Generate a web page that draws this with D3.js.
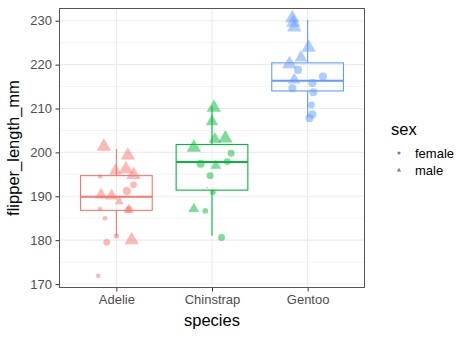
<!DOCTYPE html>
<html>
<head>
<meta charset="utf-8">
<script src="https://cdn.jsdelivr.net/npm/d3@7"></script>
<style>
  html, body { margin: 0; padding: 0; background: #fff; }
  svg { display: block; font-family: "Liberation Sans", Arial, Helvetica, sans-serif; }
</style>
</head>
<body>
<svg id="chart" width="474" height="338"></svg>
<script>
// ---------------- data ----------------
const species = ["Adelie", "Chinstrap", "Gentoo"];
const speciesColors = ["#F8766D", "#00BA38", "#619CFF"];
const yTicks = [170, 180, 190, 200, 210, 220, 230];
const sexLevels = ["female", "male"];

// box statistics: [lower whisker, Q1, median, Q3, upper whisker]
const boxAdelie    = [180.8, 186.8, 189.9, 194.7, 200.8];
const boxChinstrap = [181, 191.4, 197.8, 201.8, 210.5];
const boxGentoo    = [207.9, 214.0, 216.3, 220.4, 230.2];

// jittered observations (flipper length, sex, horizontal jitter in category units, size variable)
const adelieFlipper = [201.3, 199.3, 195.8, 196.2, 194.9, 190.3, 190.1, 188.8, 186.9, 180.0,
                       194.5, 192.6, 191.2, 187.1, 185.0, 181.0, 179.5, 171.9, 187.0];
const adelieSex     = ["male","male","male","male","male","male","male","male","male","male",
                       "female","female","female","female","female","female","female","female","female"];
const adelieJitter  = [-0.13, 0.12, -0.01, 0.10, 0.18, -0.16, -0.05, 0.03, 0.13, 0.16,
                       -0.17, 0.18, 0.11, -0.17, -0.12, 0.00, -0.10, -0.19, 0.13];
const adelieSize    = [4, 4, 3.5, 4, 4, 3.5, 3.5, 2.5, 3, 4,
                       2, 3, 3.5, 2, 2, 2.3, 3, 2, 3];

const chinstrapFlipper = [210.2, 207.0, 203.0, 203.2, 201.1, 197.0, 187.1,
                          199.8, 197.9, 197.4, 194.7, 192.0, 190.9, 186.7, 180.6];
const chinstrapSex     = ["male","male","male","male","male","male","male",
                          "female","female","female","female","female","female","female","female"];
const chinstrapJitter  = [0.02, 0.00, 0.03, 0.14, -0.19, 0.04, -0.19,
                          0.20, 0.16, -0.12, -0.02, -0.05, 0.01, -0.07, 0.10];
const chinstrapSize    = [4, 3.5, 3.5, 4, 4, 3, 3,
                          3, 3, 3.5, 3, 0.6, 2.5, 2.5, 3];

const gentooFlipper = [230.6, 229.6, 228.5, 223.9, 221.6, 220.1, 216.5,
                       218.8, 217.3, 215.8, 214.6, 213.7, 210.8, 208.7, 207.8];
const gentooSex     = ["male","male","male","male","male","male","male",
                       "female","female","female","female","female","female","female","female"];
const gentooJitter  = [-0.16, -0.15, -0.14, 0.01, -0.07, -0.19, -0.14,
                       -0.10, 0.16, 0.05, -0.16, 0.06, 0.04, 0.05, 0.02];
const gentooSize    = [4, 4, 4, 4, 3.5, 4, 3.5,
                       3.5, 3.5, 3.5, 3.5, 3.5, 3, 3.5, 3.5];

// ---------------- build tables ----------------
const boxes = [boxAdelie, boxChinstrap, boxGentoo].map((b, i) => ({
  species: species[i], lo: b[0], q1: b[1], med: b[2], q3: b[3], hi: b[4]
}));
const groups = [
  [adelieFlipper, adelieSex, adelieJitter, adelieSize],
  [chinstrapFlipper, chinstrapSex, chinstrapJitter, chinstrapSize],
  [gentooFlipper, gentooSex, gentooJitter, gentooSize]
];
const points = [];
groups.forEach((g, i) => {
  g[0].forEach((v, j) => points.push({
    species: species[i], idx: i + 1, flipper: v, sex: g[1][j], jitter: g[2][j], size: g[3][j]
  }));
});

// ---------------- layout ----------------
const svg = d3.select("#chart");
const P = { left: 59, right: 365, top: 8, bottom: 288 };

const x = d3.scaleLinear().domain([0.4, species.length + 0.6]).range([P.left, P.right]);
const y = d3.scaleLinear().domain([169.1, 232.9]).range([P.bottom, P.top]);
const color = d3.scaleOrdinal().domain(species).range(speciesColors);
const shape = d3.scaleOrdinal().domain(sexLevels).range([d3.symbolCircle, d3.symbolTriangle]);
const radius = d3.scaleLinear().domain([0, 4]).range([0, 4.6]);
const step = x(2) - x(1);
const boxW = 0.75 * step;

// panel background
svg.append("rect").attr("x", P.left).attr("y", P.top)
  .attr("width", P.right - P.left).attr("height", P.bottom - P.top).attr("fill", "#fff");

// grid
const minorTicks = d3.range(yTicks[0] + 5, yTicks[yTicks.length - 1], 10);
const grid = svg.append("g");
grid.selectAll(".ymin").data(minorTicks).join("line")
  .attr("x1", P.left).attr("x2", P.right)
  .attr("y1", d => y(d)).attr("y2", d => y(d))
  .attr("stroke", "#EBEBEB").attr("stroke-width", 0.6);
grid.selectAll(".ymaj").data(yTicks).join("line")
  .attr("x1", P.left).attr("x2", P.right)
  .attr("y1", d => y(d)).attr("y2", d => y(d))
  .attr("stroke", "#EBEBEB").attr("stroke-width", 1.1);
grid.selectAll(".xmaj").data(species).join("line")
  .attr("x1", (d, i) => x(i + 1)).attr("x2", (d, i) => x(i + 1))
  .attr("y1", P.top).attr("y2", P.bottom)
  .attr("stroke", "#EBEBEB").attr("stroke-width", 1.1);

// boxplots
const bx = svg.append("g").selectAll("g").data(boxes).join("g");
bx.append("line")
  .attr("x1", (d, i) => x(i + 1)).attr("x2", (d, i) => x(i + 1))
  .attr("y1", d => y(d.hi)).attr("y2", d => y(d.q3))
  .attr("stroke", d => color(d.species)).attr("stroke-width", 1.1);
bx.append("line")
  .attr("x1", (d, i) => x(i + 1)).attr("x2", (d, i) => x(i + 1))
  .attr("y1", d => y(d.q1)).attr("y2", d => y(d.lo))
  .attr("stroke", d => color(d.species)).attr("stroke-width", 1.1);
bx.append("rect")
  .attr("x", (d, i) => x(i + 1) - boxW / 2).attr("width", boxW)
  .attr("y", d => y(d.q3)).attr("height", d => y(d.q1) - y(d.q3))
  .attr("fill", "none").attr("stroke", d => color(d.species)).attr("stroke-width", 1.1);
bx.append("line")
  .attr("x1", (d, i) => x(i + 1) - boxW / 2).attr("x2", (d, i) => x(i + 1) + boxW / 2)
  .attr("y1", d => y(d.med)).attr("y2", d => y(d.med))
  .attr("stroke", d => color(d.species)).attr("stroke-width", 2);

// points
svg.append("g").selectAll("path").data(points).join("path")
  .attr("transform", d => `translate(${x(d.idx + d.jitter)},${y(d.flipper)})`)
  .attr("d", d => {
    const r = radius(d.size);
    const area = d.sex === "male" ? r * r * Math.PI * 1.35 : r * r * Math.PI;
    return d3.symbol().type(shape(d.sex)).size(area)();
  })
  .attr("fill", d => color(d.species)).attr("fill-opacity", 0.5);

// panel border
svg.append("rect").attr("x", P.left + 0.5).attr("y", P.top + 0.5)
  .attr("width", P.right - P.left - 1).attr("height", P.bottom - P.top - 1)
  .attr("fill", "none").attr("stroke", "#555").attr("stroke-width", 1);

// axes
const yAxis = svg.append("g").attr("transform", `translate(${P.left},0)`)
  .call(d3.axisLeft(y).tickValues(yTicks).tickSize(3.5).tickPadding(3.5));
yAxis.select(".domain").remove();
const xAxis = svg.append("g").attr("transform", `translate(0,${P.bottom})`)
  .call(d3.axisBottom(x).tickValues(species.map((d, i) => i + 1))
    .tickFormat((d) => species[d - 1]).tickSize(3.5).tickPadding(3));
xAxis.select(".domain").remove();
[yAxis, xAxis].forEach(a => {
  a.selectAll(".tick line").attr("stroke", "#333").attr("stroke-width", 1);
  a.selectAll(".tick text").attr("fill", "#4D4D4D")
    .style("font-size", "13px").style("font-family", '"Liberation Sans", Arial, sans-serif');
});

// axis titles
svg.append("text").attr("x", (P.left + P.right) / 2).attr("y", 326)
  .attr("text-anchor", "middle").style("font-size", "16.5px").attr("fill", "#000")
  .text("species");
svg.append("text")
  .attr("transform", `translate(19,${(P.top + P.bottom) / 2}) rotate(-90)`)
  .attr("text-anchor", "middle").style("font-size", "16.5px").attr("fill", "#000")
  .text("flipper_length_mm");

// legend
const lg = svg.append("g").attr("transform", "translate(391,0)");
lg.append("text").attr("x", 0).attr("y", 135).style("font-size", "16.5px").attr("fill", "#000").text("sex");
const items = lg.selectAll(".item").data(sexLevels).join("g")
  .attr("transform", (d, i) => `translate(0,${153 + i * 17.3})`);
items.append("path").attr("transform", "translate(8,0)")
  .attr("d", d => d3.symbol().type(shape(d)).size(d === "male" ? 9 : 8)())
  .attr("fill", "#000").attr("fill-opacity", 0.5);
items.append("text").attr("x", 24).attr("y", 0).attr("dy", "0.35em")
  .style("font-size", "13px").attr("fill", "#000").text(d => d);
</script>
</body>
</html>
